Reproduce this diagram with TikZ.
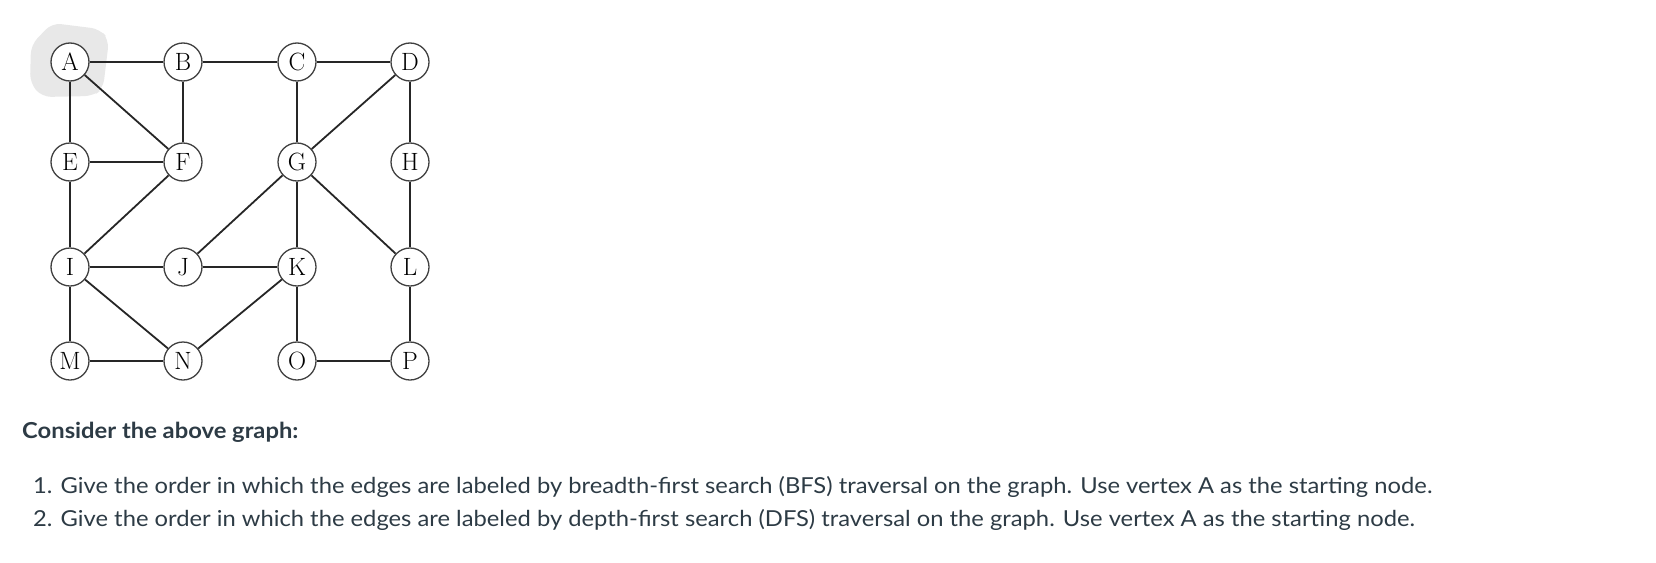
\documentclass[tikz,border=0pt]{standalone}
\usepackage{fontspec}
\newfontfamily\latofont[FakeStretch=1.08]{Lato}
\definecolor{textslate}{HTML}{2D3B45}
\tikzset{
    vertex/.style={circle, draw=black!75, line width=1.3pt, fill=white, minimum size=38pt, inner sep=0pt, font=\fontsize{25}{25}\selectfont},
    edge/.style={line width=1.8pt, black!85},
    question/.style={anchor=base west, inner sep=0pt, text=textslate, font=\latofont\fontsize{22}{26}\selectfont}
}
\begin{document}
\begin{tikzpicture}[x=1pt,y=-1pt]
    \useasboundingbox (0,0) rectangle (1656,562);
    \fill[gray!18, rounded corners=9pt] (31,45) -- (52,23) -- (100,29) -- (109,40) -- (103,89) -- (93,96) -- (42,97) -- (30,83) -- cycle;

    \node[vertex] (A) at (70,62) {A};
    \node[vertex] (B) at (183,62) {B};
    \node[vertex] (C) at (297,62) {C};
    \node[vertex] (D) at (410,62) {D};
    \node[vertex] (E) at (70,162) {E};
    \node[vertex] (F) at (183,162) {F};
    \node[vertex] (G) at (297,162) {G};
    \node[vertex] (H) at (410,162) {H};
    \node[vertex] (I) at (70,267) {I};
    \node[vertex] (J) at (183,267) {J};
    \node[vertex] (K) at (297,267) {K};
    \node[vertex] (L) at (410,267) {L};
    \node[vertex] (M) at (70,361) {M};
    \node[vertex] (N) at (183,361) {N};
    \node[vertex] (O) at (297,361) {O};
    \node[vertex] (P) at (410,361) {P};

    \foreach \u/\v in {A/B, B/C, C/D, A/E, A/F, B/F, C/G, D/G, D/H, E/F, E/I, F/I, G/J, G/K, G/L, H/L, I/J, J/K, I/M, I/N, K/N, K/O, L/P, M/N, O/P}
        \draw[edge] (\u) -- (\v);

    \node[question, font=\latofont\bfseries\fontsize{22}{26}\selectfont] (head) at (22,438) {Consider the above graph:};
    \node[question] (q1) at (33,493) {1. Give the order in which the edges are labeled by breadth-first search (BFS) traversal on the graph. Use vertex A as the starting node.};
    \node[question] (q2) at (33,526) {2. Give the order in which the edges are labeled by depth-first search (DFS) traversal on the graph. Use vertex A as the starting node.};
\end{tikzpicture}
\end{document}
